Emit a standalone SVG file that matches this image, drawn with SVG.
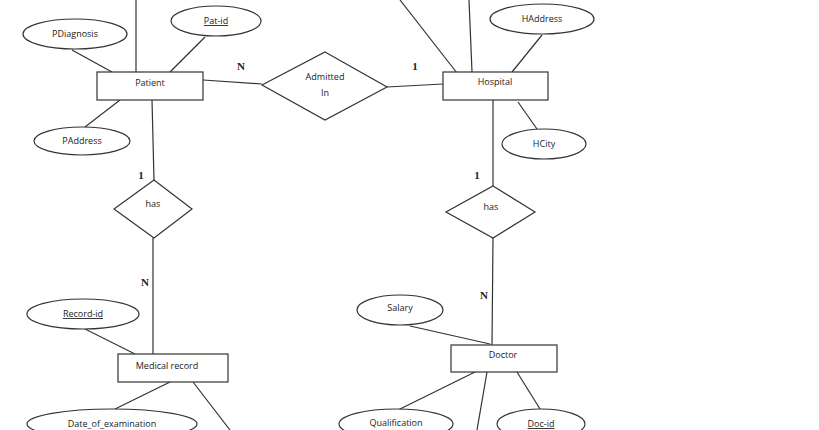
<svg xmlns="http://www.w3.org/2000/svg" width="819" height="430" viewBox="0 0 819 430">
<style>
.s{fill:#fff;stroke:#333;stroke-width:1.2}
.l{stroke:#333;stroke-width:1.2;fill:none}
text{font-family:"Open Sans","Liberation Sans",sans-serif;font-size:9px;fill:#222;text-anchor:middle}
.c{font-family:"Liberation Serif",serif;font-weight:bold;font-size:11px}
.u{text-decoration:underline}
</style>
<rect width="819" height="430" fill="#fff"/>
<g id="connectors">
<line class="l" x1="136" y1="0" x2="136" y2="72"/>
<line class="l" x1="205" y1="37" x2="170" y2="72"/>
<line class="l" x1="72" y1="50" x2="112" y2="72"/>
<line class="l" x1="85" y1="127" x2="120" y2="100"/>
<line class="l" x1="152" y1="100" x2="154" y2="180"/>
<line class="l" x1="203" y1="80" x2="262" y2="84"/>
<line class="l" x1="387" y1="87" x2="443" y2="84"/>
<line class="l" x1="400" y1="0" x2="457" y2="73"/>
<line class="l" x1="469" y1="0" x2="472" y2="72"/>
<line class="l" x1="542" y1="35" x2="512" y2="72"/>
<line class="l" x1="518" y1="102" x2="537" y2="129"/>
<line class="l" x1="493" y1="100" x2="493" y2="186"/>
<line class="l" x1="493" y1="238" x2="492" y2="345"/>
<line class="l" x1="410" y1="326" x2="490" y2="344"/>
<line class="l" x1="475" y1="372" x2="398" y2="410"/>
<line class="l" x1="487" y1="372" x2="477" y2="430"/>
<line class="l" x1="517" y1="372" x2="540" y2="409"/>
<line class="l" x1="153" y1="238" x2="153" y2="354"/>
<line class="l" x1="85" y1="329" x2="135" y2="354"/>
<line class="l" x1="170" y1="382" x2="115" y2="409"/>
<line class="l" x1="193" y1="382" x2="230" y2="430"/>
<text class="c" x="241" y="70">N</text>
<text class="c" x="415" y="70">1</text>
<text class="c" x="141" y="179">1</text>
<text class="c" x="477" y="179">1</text>
<text class="c" x="145" y="286">N</text>
<text class="c" x="484" y="299">N</text>
</g>
<g id="patient"><rect class="s" x="97" y="72" width="106" height="28"/><text x="150" y="86">Patient</text></g>
<g id="patid"><ellipse class="s" cx="216" cy="21" rx="45" ry="15"/><text class="u" x="216" y="24">Pat-id</text></g>
<g id="pdiag"><ellipse class="s" cx="75" cy="34" rx="52" ry="15"/><text x="75" y="37">PDiagnosis</text></g>
<g id="paddr"><ellipse class="s" cx="82" cy="141" rx="48" ry="14"/><text x="82" y="144">PAddress</text></g>
<g id="has1"><polygon class="s" points="154,180 192,209 154,238 114,209"/><text x="153" y="207">has</text></g>
<g id="admitted"><polygon class="s" points="325,52 387,87 325,120 262,85"/><text x="325" y="80">Admitted</text><text x="325" y="96">In</text></g>
<g id="hospital"><rect class="s" x="443" y="72" width="105" height="28"/><text x="495" y="85">Hospital</text></g>
<g id="haddr"><ellipse class="s" cx="542" cy="19" rx="52" ry="15"/><text x="542" y="22">HAddress</text></g>
<g id="hcity"><ellipse class="s" cx="544" cy="144" rx="42" ry="15"/><text x="544" y="147">HCity</text></g>
<g id="has2"><polygon class="s" points="493,186 535,212 493,238 446,212"/><text x="491" y="210">has</text></g>
<g id="doctor"><rect class="s" x="451" y="345" width="106" height="27"/><text x="503" y="358">Doctor</text></g>
<g id="salary"><ellipse class="s" cx="400" cy="310" rx="43" ry="15"/><text x="400" y="311">Salary</text></g>
<g id="qual"><ellipse class="s" cx="396" cy="424" rx="57" ry="15"/><text x="396" y="426">Qualification</text></g>
<g id="docid"><ellipse class="s" cx="541" cy="424" rx="44" ry="15"/><text class="u" x="541" y="427">Doc-id</text></g>
<g id="medrec"><rect class="s" x="118" y="354" width="110" height="28"/><text x="167" y="369">Medical record</text></g>
<g id="recid"><ellipse class="s" cx="83" cy="314" rx="56" ry="15"/><text class="u" x="83" y="317">Record-id</text></g>
<g id="doe"><ellipse class="s" cx="112" cy="424" rx="85" ry="15"/><text x="112" y="427">Date_of_examination</text></g>
</svg>
